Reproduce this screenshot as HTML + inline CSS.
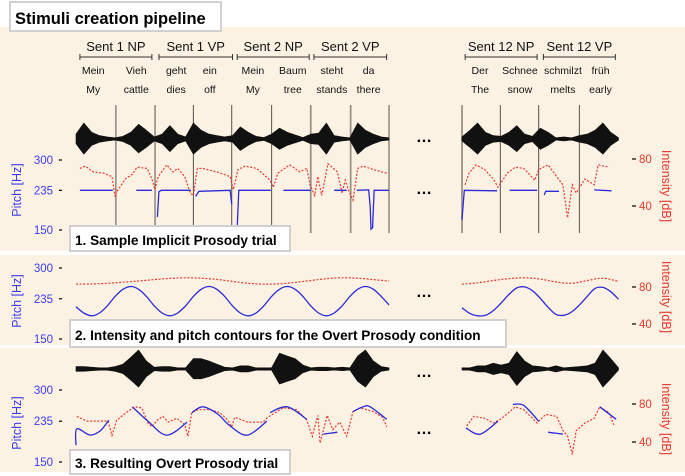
<!DOCTYPE html>
<html><head><meta charset="utf-8"><style>
html,body{margin:0;padding:0;background:#fff;}
svg{display:block;font-family:"Liberation Sans",sans-serif;}
</style></head><body>
<svg id="fig" width="685" height="476" viewBox="0 0 685 476">
<rect x="0" y="27" width="685" height="224" fill="#fcf2e3"/>
<rect x="0" y="255" width="685" height="90" fill="#fcf2e3"/>
<rect x="0" y="348" width="685" height="124" fill="#fcf2e3"/>
<rect x="10" y="2" width="211" height="29" fill="#fff" stroke="#d0d0d0" stroke-width="2"/>
<text x="15" y="24" font-size="16.5" font-weight="bold" fill="#000">Stimuli creation pipeline</text>
<g id="marks"></g>
<g id="texts"></g>
<rect x="70" y="226" width="220" height="25" fill="#fff" stroke="#d0d0d0" stroke-width="2"/>
<text x="75" y="245" font-size="13.6" font-weight="bold">1. Sample Implicit Prosody trial</text>
<rect x="70" y="320" width="436" height="27" fill="#fff" stroke="#d0d0d0" stroke-width="2"/>
<text x="75" y="340" font-size="13.6" font-weight="bold">2. Intensity and pitch contours for the Overt Prosody condition</text>
<rect x="70" y="450" width="220" height="24" fill="#fff" stroke="#d0d0d0" stroke-width="2"/>
<text x="75" y="468" font-size="13.6" font-weight="bold">3. Resulting Overt Prosody trial</text>
</svg>
<script>
// ---------- data ----------
const sentLabels = ["Sent 1 NP","Sent 1 VP","Sent 2 NP","Sent 2 VP","Sent 12 NP","Sent 12 VP"];
const sentSpans = [[0.05,0.97],[1.06,2.0],[2.06,2.98],[3.04,3.97],[0.04,0.96],[1.04,1.96]];
const sentPart = ["A","A","A","A","B","B"];
const wordsGerman = ["Mein","Vieh","geht","ein","Mein","Baum","steht","da","Der","Schnee","schmilzt","früh"];
const wordsEnglish = ["My","cattle","dies","off","My","tree","stands","there","The","snow","melts","early"];
const wordTimes = [0.22,0.77,1.28,1.71,2.26,2.77,3.27,3.74,0.23,0.74,1.29,1.77];
const wordPart = ["A","A","A","A","A","A","A","A","B","B","B","B"];
const boundariesA = [0.51,1.01,1.50,1.99,2.50,3.0,3.51,4.0];
const boundariesB = [0.0,0.49,0.98,1.50];
const pitchTicks = [150,235,300];
const intensityTicks = [40,80];

const env1A = [0.5,1.0,0.6,0.4,0.3,0.15,0.35,0.6,0.95,0.7,0.3,0.5,0.9,0.5,0.3,1.0,0.7,0.5,0.4,0.3,0.4,0.85,0.6,0.35,0.25,0.5,0.8,0.6,0.45,0.25,0.5,0.55,1.0,0.4,0.3,0.2,1.0,0.7,0.5,0.3,0.1];
const env1B = [0.3,0.7,1.0,0.6,0.4,0.35,0.6,0.9,0.5,0.35,0.8,0.6,0.2,0.3,0.2,0.4,0.5,0.7,1.0,0.6,0.1];
const env3A = [0.3,0.3,0.25,0.2,0.2,0.3,0.45,0.75,1.0,0.6,0.25,0.3,0.3,0.15,0.15,0.7,0.7,0.6,0.45,0.25,0.2,0.35,0.35,0.2,0.15,0.2,0.9,0.8,0.7,0.4,0.2,0.25,0.25,0.1,0.25,0.1,0.8,1.0,0.6,0.3,0.05];
const env3B = [0.05,0.2,0.35,0.35,0.5,0.4,0.5,0.95,0.6,0.35,0.3,0.2,0.35,0.2,0.25,0.3,0.35,0.5,1.0,0.7,0.1];

const pitch1A = [[0.05,235],[0.47,235],null,[0.77,235],[0.97,235],null,[1.04,178],[1.06,232],[1.09,235],[1.47,235],null,[1.53,222],[1.57,233],[1.97,235],[1.99,205],null,[2.06,155],[2.08,235],[2.49,235],null,[2.65,235],[3.0,235],null,[3.30,235],[3.46,235],null,[3.59,235],[3.74,236],[3.76,200],[3.77,152],[3.79,155],[3.81,235],[4.0,235]];
const pitch1B = [[0.0,172],[0.03,235],[0.45,234],null,[0.61,235],[0.96,235],null,[1.05,225],[1.07,233],[1.24,233],null,[1.69,236],[1.91,234]];
const int1A = [[0.05,72],[0.12,74],[0.22,69],[0.35,68],[0.46,65],[0.50,48],[0.52,52],[0.63,63],[0.72,67],[0.78,73],[0.91,72],[0.97,63],[1.01,54],[1.05,65],[1.16,75],[1.24,69],[1.30,72],[1.39,65],[1.46,51],[1.50,49],[1.55,72],[1.62,72],[1.80,69],[1.97,65],[2.01,54],[2.07,71],[2.16,74],[2.31,72],[2.48,62],[2.52,56],[2.58,68],[2.73,75],[2.86,69],[2.95,72],[2.99,58],[3.05,49],[3.09,65],[3.14,49],[3.22,76],[3.34,69],[3.40,51],[3.44,62],[3.48,54],[3.54,45],[3.60,72],[3.67,74],[3.80,71],[3.97,68]];
const int1B = [[0.04,58],[0.09,68],[0.18,75],[0.29,71],[0.40,63],[0.46,56],[0.58,68],[0.68,73],[0.79,72],[0.93,62],[0.98,71],[1.10,75],[1.21,65],[1.29,58],[1.35,30],[1.41,58],[1.46,51],[1.57,63],[1.69,58],[1.74,75],[1.88,73]];

const pitch2A = [218,205,199,205,220,240,255,261,255,240,220,205,199,205,220,240,255,261,255,240,220,205,199,205,220,240,255,261,255,240,220,205,199,205,220,240,255,261,255,240,222];
const pitch2B = [216,204,199,200,210,226,244,258,260,252,236,217,202,200,207,222,240,257,259,250,234];
const int2A = [83,83.3,84,85.2,86.5,88,89.3,90,89.5,88.2,86,84,83,83.5,85,87,89,90,89.5,88,86.5];
const int2B = [83,84.5,87,89,90,88.5,85.5,84,87,89.5,86];

const pitch3A = [[0.0,185],[0.01,219],[0.18,206],[0.31,215],[0.42,237],null,[0.72,265],[0.92,235],[1.16,206],[1.42,233],null,[1.48,253],[1.62,265],[1.81,250],[1.97,225],[2.19,206],[2.44,235],null,[2.48,253],[2.70,265],[2.95,239],null,[3.16,208],[3.34,212],null,[3.54,255],[3.67,265],[3.76,265],[3.97,239]];
const pitch3B = [[0.05,221],[0.23,208],[0.46,235],null,[0.65,270],[0.79,268],[0.98,235],null,[1.10,212],[1.29,208],null,[1.76,265],[1.97,239]];
const int3A = [[0.01,67],[0.14,62],[0.35,62],[0.41,62],[0.46,47],[0.52,63],[0.66,72],[0.75,77],[0.84,76],[0.92,60],[0.97,56],[1.04,63],[1.11,67],[1.18,61],[1.29,65],[1.39,58],[1.43,46],[1.48,71],[1.56,74],[1.71,74],[1.84,71],[1.94,63],[1.99,56],[2.03,66],[2.19,61],[2.39,61],[2.45,66],[2.57,72],[2.65,76],[2.82,74],[2.95,63],[3.02,46],[3.09,68],[3.12,39],[3.21,68],[3.28,53],[3.37,61],[3.46,46],[3.54,72],[3.63,76],[3.80,72],[3.92,66],[3.97,56]];
const int3B = [[0.06,57],[0.15,67],[0.29,65],[0.40,60],[0.51,65],[0.68,77],[0.79,74],[0.96,60],[1.07,69],[1.21,67],[1.29,52],[1.35,46],[1.41,27],[1.46,52],[1.57,60],[1.69,65],[1.76,77],[1.88,71],[1.94,58]];

// ---------- scales ----------
const PXS = 78.25;
function xA(t){return 76 + t*PXS;}
function xB(t){return 462 + t*PXS;}
function xOf(part,t){return part==="A"?xA(t):xB(t);}
function pitchScale(y150,y300){return hz=>y150+(hz-150)*(y300-y150)/150;}
function dbScale(y40,y80){return db=>y40+(db-40)*(y80-y40)/40;}
const panels = [
  {id:1,yP:pitchScale(230,160),yI:dbScale(206,159),wave:139,amp:16,mid:190},
  {id:2,yP:pitchScale(339,268),yI:dbScale(324,287),wave:null,amp:0,mid:301},
  {id:3,yP:pitchScale(462,390),yI:dbScale(442,404),wave:369,amp:19,mid:423}
];
const NS="http://www.w3.org/2000/svg";
const marks=document.getElementById('marks');
const texts=document.getElementById('texts');
function mk(tag,attrs,parent){const e=document.createElementNS(NS,tag);for(const k in attrs)e.setAttribute(k,attrs[k]);(parent||marks).appendChild(e);return e;}
function txt(s,x,y,size,fill,anchor){const e=mk('text',{x:x,y:y,'font-size':size,fill:fill,'text-anchor':anchor||'start'},texts);e.textContent=s;return e;}

boundariesA.forEach((t,i)=>{
  const l=mk('line',{x1:xA(t),x2:xA(t),y1:105,y2:233,stroke:(i===5||i===6)?'#9a9188':'#55514c','stroke-width':(i===5||i===6)?1.8:1});
  
  
});
boundariesB.forEach((t,i)=>{
  const l=mk('line',{x1:xB(t),x2:xB(t),y1:105,y2:233,stroke:i===0?'#9a9188':'#55514c','stroke-width':i===0?1.8:1});
  
  
});

function wave(env,part,cy,amp,name){
  const step=0.1;let top=[],bot=[];
  env.forEach((a,i)=>{const x=xOf(part,i*step);const h=Math.max(1.2,Math.pow(a,1.7)*amp);top.push(x.toFixed(1)+','+(cy-h).toFixed(1));bot.unshift(x.toFixed(1)+','+(cy+h*0.95).toFixed(1));});
  const p=mk('polygon',{points:top.concat(bot).join(' '),fill:'#111',stroke:'#111','stroke-width':0.6,'stroke-linejoin':'round'});
  
  
}
wave(env1A,'A',panels[0].wave,panels[0].amp,'waveform-implicit-a');
wave(env1B,'B',panels[0].wave,panels[0].amp,'waveform-implicit-b');
wave(env3A,'A',panels[2].wave,panels[2].amp,'waveform-overt-a');
wave(env3B,'B',panels[2].wave,panels[2].amp,'waveform-overt-b');

function pathPts(pts,part,ys){let d='',pen=false;pts.forEach(p=>{if(!p){pen=false;return;}d+=(pen?'L':'M')+xOf(part,p[0]).toFixed(1)+','+ys(p[1]).toFixed(1);pen=true;});return d;}
function smoothPts(pts,part,ys){
  let segs=[],cur=[];pts.forEach(p=>{if(!p){if(cur.length)segs.push(cur);cur=[];}else cur.push([xOf(part,p[0]),ys(p[1])]);});if(cur.length)segs.push(cur);
  let d='';
  segs.forEach(s=>{d+='M'+s[0][0].toFixed(1)+','+s[0][1].toFixed(1);
    for(let i=0;i<s.length-1;i++){const p0=s[Math.max(0,i-1)],p1=s[i],p2=s[i+1],p3=s[Math.min(s.length-1,i+2)];
      const c1=[p1[0]+(p2[0]-p0[0])/6,p1[1]+(p2[1]-p0[1])/6],c2=[p2[0]-(p3[0]-p1[0])/6,p2[1]-(p3[1]-p1[1])/6];
      d+='C'+c1[0].toFixed(1)+','+c1[1].toFixed(1)+' '+c2[0].toFixed(1)+','+c2[1].toFixed(1)+' '+p2[0].toFixed(1)+','+p2[1].toFixed(1);}
  });return d;}
function pathArr(vals,step,part,ys){return smoothPts(vals.map((v,i)=>[i*step,v]),part,ys);}
function intensityLine(d,name){const p=mk('path',{d:d,fill:'none',stroke:'#e8372f','stroke-width':1.2,'stroke-dasharray':'2,1.6'});}
function pitchLine(d,name){const p=mk('path',{d:d,fill:'none',stroke:'#2a2ad8','stroke-width':1.3});}

intensityLine(pathPts(int1A,'A',panels[0].yI),'intensity-implicit-a');
intensityLine(pathPts(int1B,'B',panels[0].yI),'intensity-implicit-b');
pitchLine(pathPts(pitch1A,'A',panels[0].yP),'pitch-implicit-a');
pitchLine(pathPts(pitch1B,'B',panels[0].yP),'pitch-implicit-b');

intensityLine(pathArr(int2A,0.2,'A',panels[1].yI),'intensity-target-a');
intensityLine(pathArr(int2B,0.2,'B',panels[1].yI),'intensity-target-b');
pitchLine(pathArr(pitch2A,0.1,'A',panels[1].yP),'pitch-target-a');
pitchLine(pathArr(pitch2B,0.1,'B',panels[1].yP),'pitch-target-b');

intensityLine(pathPts(int3A,'A',panels[2].yI),'intensity-overt-a');
intensityLine(pathPts(int3B,'B',panels[2].yI),'intensity-overt-b');
pitchLine(smoothPts(pitch3A,'A',panels[2].yP),'pitch-overt-a');
pitchLine(smoothPts(pitch3B,'B',panels[2].yP),'pitch-overt-b');

panels.forEach(P=>{
  pitchTicks.forEach(h=>{
    const y=P.yP(h);
    const t=txt(String(h),53,y+4,11.5,'#3b3bf0','end');
    
    
    const k=mk('line',{x1:59,x2:62,y1:y,y2:y,stroke:'#000','stroke-width':1.2});
    
    
  });
  intensityTicks.forEach(d=>{
    const y=P.yI(d);
    const k=mk('line',{x1:632,x2:636,y1:y,y2:y,stroke:'#000','stroke-width':1.2});
    
    
    const t=txt(String(d),639,y+4,11.5,'#e8372f','start');
    
    
  });
  const pl=txt('Pitch [Hz]',0,0,12.5,'#3b3bf0','middle');
  pl.setAttribute('transform','translate(21,'+P.mid+') rotate(-90)');
  
  
  const il=txt('Intensity [dB]',0,0,12.5,'#e8372f','middle');
  il.setAttribute('transform','translate(662,'+(P.mid-4)+') rotate(90)');
  
  
});

[[138],[190],[293],[373],[430]].forEach(r=>{
  const e=txt('…',424,r[0]+4,16,'#000','middle');
  e.setAttribute('font-weight','bold');
  
  
});

sentLabels.forEach((s,i)=>{
  const x1=xOf(sentPart[i],sentSpans[i][0]),x2=xOf(sentPart[i],sentSpans[i][1]);
  const t=txt(s,(x1+x2)/2,51,13,'#111','middle');
  
  
  const b=mk('path',{d:'M'+x1+',54V60M'+x1+',57H'+x2+'M'+x2+',54V60',stroke:'#333','stroke-width':1,fill:'none'});
  
  
});
wordsGerman.forEach((w,i)=>{
  const x=xOf(wordPart[i],wordTimes[i]);
  const a=txt(w,x,74,10.5,'#111','middle');
  
  
  const b=txt(wordsEnglish[i],x,93,10.5,'#111','middle');
  
  
});
</script>
</body></html>
